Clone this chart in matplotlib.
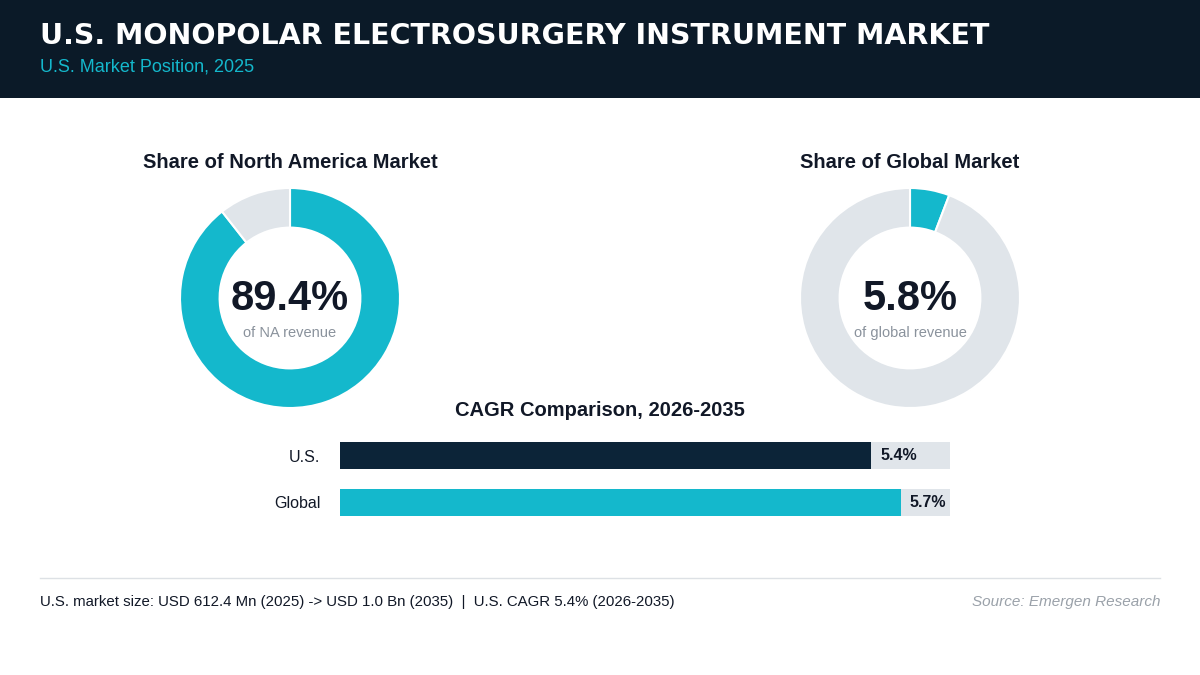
import matplotlib.pyplot as plt

W, H = 1200, 675
NAVY = "#0c2438"
TEAL = "#14b8cc"
GREY = "#e0e5ea"

na_share = 89.4
global_share = 5.8
cagr_labels = ["U.S.", "Global"]
cagr_values = [5.4, 5.7]
cagr_max = 6.2


def px_axes(fig, x, y, w, h):
    # x, y = top-left corner in pixels
    return fig.add_axes([x / W, 1 - (y + h) / H, w / W, h / H])


fig = plt.figure(figsize=(12, 6.75), dpi=100)
fig.patch.set_facecolor("white")

# header band
hdr = px_axes(fig, 0, 0, W, 98)
hdr.set_facecolor("#0b1a28")
hdr.set_xticks([]); hdr.set_yticks([])
for s in hdr.spines.values():
    s.set_visible(False)
fig.text(40 / W, 1 - 36 / H, "U.S. MONOPOLAR ELECTROSURGERY INSTRUMENT MARKET",
         color="white", fontsize=20.5, fontweight="bold", va="center", family="DejaVu Sans")
fig.text(40 / W, 1 - 67 / H, "U.S. Market Position, 2025", color=TEAL, fontsize=13,
         va="center", family="Liberation Sans")


def donut(cx, title, share, big, small):
    ax = px_axes(fig, cx - 110, 188, 220, 220)
    ax.pie([share, 100 - share], colors=[TEAL, GREY], startangle=90, counterclock=False,
           radius=1, wedgeprops=dict(width=0.36, edgecolor="white", linewidth=1.5))
    ax.set_xlim(-1, 1); ax.set_ylim(-1, 1)
    ax.set_aspect("equal")
    ax.axis("off")
    fig.text(cx / W, 1 - 163 / H, title, ha="center", va="center", fontsize=14.5,
             fontweight="bold", color="#111827", family="Liberation Sans")
    fig.text(cx / W, 1 - 299 / H, big, ha="center", va="center", fontsize=30,
             fontweight="bold", color="#111827", family="Liberation Sans")
    fig.text(cx / W, 1 - 333 / H, small, ha="center", va="center", fontsize=10.5,
             color="#8a929c", family="Liberation Sans")


donut(290, "Share of North America Market", na_share, f"{na_share}%", "of NA revenue")
donut(910, "Share of Global Market", global_share, f"{global_share}%", "of global revenue")

fig.text(600 / W, 1 - 410 / H, "CAGR Comparison, 2026-2035", ha="center", va="center",
         fontsize=14.5, fontweight="bold", color="#111827", family="Liberation Sans")

# bar chart: rows at y=455 and y=502, bar height 27 px
bx = px_axes(fig, 340, 432, 610, 94)
ys = [0, 1]
bx.barh(ys, [cagr_max] * 2, height=27 / 47, color=GREY)
bx.barh(ys, cagr_values, height=27 / 47, color=[NAVY, TEAL])
for yv, v in zip(ys, cagr_values):
    bx.text(v + 0.09, yv, f"{v}%", va="center", ha="left", fontsize=11.5,
            fontweight="bold", color="#111827", family="Liberation Sans")
bx.set_xlim(0, cagr_max)
bx.set_ylim(1.5, -0.5)
bx.set_yticks(ys)
bx.set_yticklabels(cagr_labels, fontsize=11.5, color="#111827", family="Liberation Sans")
bx.tick_params(axis="y", length=0, pad=14)
bx.set_xticks([])
for s in bx.spines.values():
    s.set_visible(False)

# footer
fig.add_artist(plt.Line2D([40 / W, 1160 / W], [1 - 578 / H] * 2, color="#dde1e5", lw=1))
fig.text(40 / W, 1 - 602 / H,
         "U.S. market size: USD 612.4 Mn (2025) -> USD 1.0 Bn (2035)  |  U.S. CAGR 5.4% (2026-2035)",
         va="center", fontsize=10.8, color="#111827", family="Liberation Sans")
fig.text(1160 / W, 1 - 602 / H, "Source: Emergen Research", va="center", ha="right",
         fontsize=11, style="italic", color="#9aa1a9", family="Liberation Sans")

fig.savefig("out.png", dpi=100)
